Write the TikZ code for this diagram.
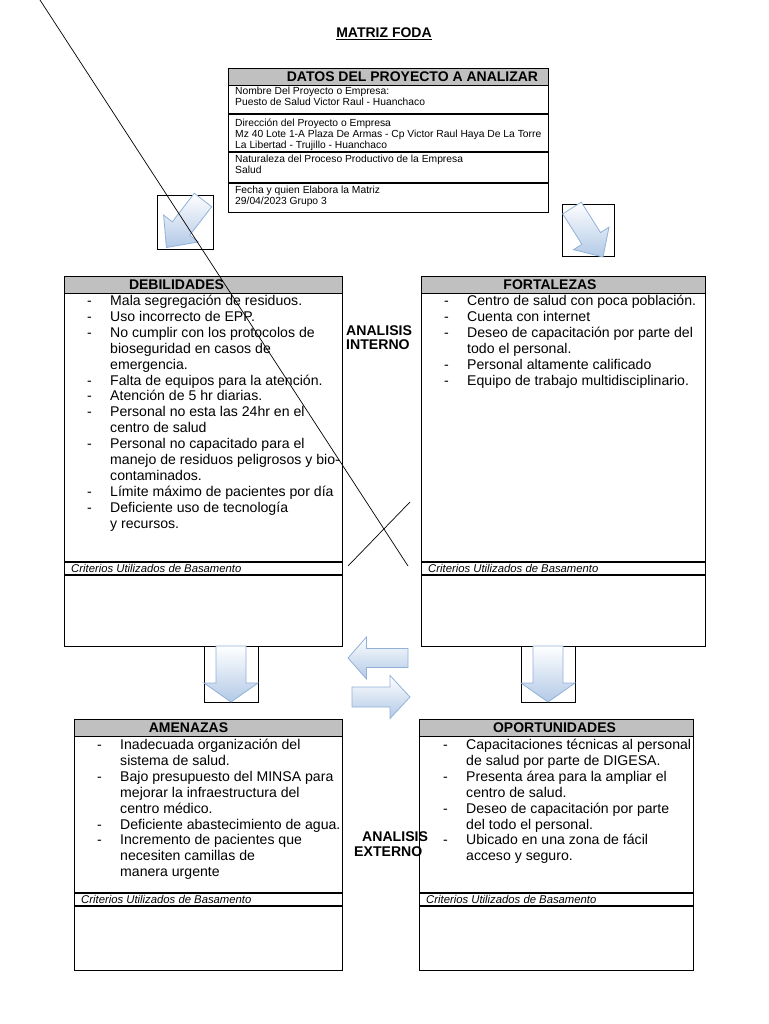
\documentclass[tikz,border=0pt]{standalone}
\usepackage{fontspec}
\setmainfont{Liberation Sans}
\usepackage{tikz}
\usetikzlibrary{positioning}
\definecolor{cabgris}{RGB}{192,192,192}
\definecolor{flechazul}{RGB}{178,201,230}
\definecolor{flechaborde}{RGB}{146,177,216}

\begin{document}
\begin{tikzpicture}[x=1pt,y=-1pt,
    caja/.style={draw,line width=1.1pt,inner sep=0pt},
    marco/.style={draw,line width=0.9pt},
    flecha/.style={draw=flechaborde,line width=0.8pt,top color=white,bottom color=flechazul},
    raya/.style={draw,line width=0.7pt},
    lista/.style={anchor=base west,inner sep=0pt,font=\fontsize{14.1}{15.9}\selectfont},
    datos/.style={anchor=base west,inner sep=0pt,font=\fontsize{10.3}{11}\selectfont},
    titulo/.style={anchor=base,inner sep=0pt,font=\bfseries\fontsize{14}{16}\selectfont},
    criterio/.style={anchor=base west,inner sep=0pt,font=\itshape\fontsize{11.3}{13}\selectfont},
    analisis/.style={anchor=base west,inner sep=0pt,font=\bfseries\fontsize{14.1}{14.8}\selectfont}]
    \useasboundingbox (0,0) rectangle (768,1024);

    % titulo
    \node[titulo] (tit) at (384,38) {\underline{MATRIZ FODA}};

    % datos del proyecto
    \node[caja,anchor=north west,minimum width=320,minimum height=144] (dat) at (228,68) {};
    \node[caja,fill=cabgris,anchor=north west,minimum width=320,minimum height=17] (dat-cab) at (dat.north west) {};
    \node[titulo] at (412.5,82) {DATOS DEL PROYECTO A ANALIZAR};
    \foreach \yy in {114,152,183} {
        \draw[caja] (228,\yy) -- (548,\yy);
    }
    \node[datos] (dat-1) at (235,94.5) {\begin{tabular}[t]{@{}l@{}}Nombre Del Proyecto o Empresa:\\ Puesto de Salud Victor Raul - Huanchaco\end{tabular}};
    \node[datos] (dat-2) at (235,126.5) {\begin{tabular}[t]{@{}l@{}}Dirección del Proyecto o Empresa\\ Mz 40 Lote 1-A Plaza De Armas - Cp Victor Raul Haya De La Torre\\ La Libertad - Trujillo - Huanchaco\end{tabular}};
    \node[datos] (dat-3) at (235,162.5) {\begin{tabular}[t]{@{}l@{}}Naturaleza del Proceso Productivo de la Empresa\\ Salud\end{tabular}};
    \node[datos] (dat-4) at (235,193.5) {\begin{tabular}[t]{@{}l@{}}Fecha y quien Elabora la Matriz\\ 29/04/2023 Grupo 3\end{tabular}};

    % cuadrantes
    \foreach \nom/\xa/\ya/\xb/\yb/\ys/\tex/\tx in {deb/64/276/342/646/562/DEBILIDADES/176.5, fort/421/276/705/646/562/FORTALEZAS/550, amen/74/719/342/970/893/AMENAZAS/188.5, oport/419/719/693/970/893/OPORTUNIDADES/554.5} {
        \node[caja,anchor=north west,minimum width={\xb-\xa},minimum height={\yb-\ya}] (\nom) at (\xa,\ya) {};
        \node[caja,fill=cabgris,anchor=north west,minimum width={\xb-\xa},minimum height=17] (\nom-cab) at (\nom.north west) {};
        \node[titulo] at (\tx,\ya+13.5) {\tex};
        \draw[caja] (\xa,\ys) -- (\xb,\ys);
        \draw[caja] (\xa,\ys+13) -- (\xb,\ys+13);
        \node[criterio] at (\xa+7,\ys+10) {Criterios Utilizados de Basamento};
    }

    \node[lista] (deb-txt) at (87,305.5) {\begin{tabular}[t]{@{}p{23pt}@{}l@{}}
        - & Mala segregación de residuos.\\
        - & Uso incorrecto de EPP.\\
        - & No cumplir con los protocolos de\\
          & bioseguridad en casos de\\
          & emergencia.\\
        - & Falta de equipos para la atención.\\
        - & Atención de 5 hr diarias.\\
        - & Personal no esta las 24hr en el\\
          & centro de salud\\
        - & Personal no capacitado para el\\
          & manejo de residuos peligrosos y bio-\\
          & contaminados.\\
        - & Límite máximo de pacientes por día\\
        - & Deficiente uso de tecnología\\
          & y recursos.
    \end{tabular}};
    \node[lista] (fort-txt) at (444,305.5) {\begin{tabular}[t]{@{}p{23pt}@{}l@{}}
        - & Centro de salud con poca población.\\
        - & Cuenta con internet\\
        - & Deseo de capacitación por parte del\\
          & todo el personal.\\
        - & Personal altamente calificado\\
        - & Equipo de trabajo multidisciplinario.
    \end{tabular}};
    \node[lista] (amen-txt) at (97,749.5) {\begin{tabular}[t]{@{}p{23pt}@{}l@{}}
        - & Inadecuada organización del\\
          & sistema de salud.\\
        - & Bajo presupuesto del MINSA para\\
          & mejorar la infraestructura del\\
          & centro médico.\\
        - & Deficiente abastecimiento de agua.\\
        - & Incremento de pacientes que\\
          & necesiten camillas de\\
          & manera urgente
    \end{tabular}};
    \node[lista] (oport-txt) at (443,749.5) {\begin{tabular}[t]{@{}p{23pt}@{}l@{}}
        - & Capacitaciones técnicas al personal\\
          & de salud por parte de DIGESA.\\
        - & Presenta área para la ampliar el\\
          & centro de salud.\\
        - & Deseo de capacitación por parte\\
          & del todo el personal.\\
        - & Ubicado en una zona de fácil\\
          & acceso y seguro.
    \end{tabular}};

    \node[analisis] (int) at (346,335) {\begin{tabular}[t]{@{}l@{}}ANALISIS\\ INTERNO\end{tabular}};
    \node[analisis] (ext) at (354,841.7) {\begin{tabular}[t]{@{}l@{}}\hspace*{8pt}ANALISIS\\ EXTERNO\end{tabular}};

    % marcos de las flechas
    \draw[marco] (157,195) rectangle (213,249);
    \draw[marco] (562,204) rectangle (614,256);
    \draw[marco] (204,646) rectangle (258,702);
    \draw[marco] (521,646) rectangle (575,702);

    % flechas
    \foreach \px/\py/\ang/\lar/\a/\b/\h in {203/200/232.4/60/11/22/24, 572/208/-57.7/58/11/21/22, 231/646/-90/56/15/27/19, 548/646/-90/56/15/27/19, 408/658/180/60/9.5/21/18.5, 352/697/0/58/10/21.5/20} {
        \begin{scope}[shift={(\px,\py)},rotate=\ang]
            \draw[flecha] (0,-\a) -- (\lar-\h,-\a) -- (\lar-\h,-\b) -- (\lar,0) -- (\lar-\h,\b) -- (\lar-\h,\a) -- (0,\a) -- cycle;
        \end{scope}
    }

    % rayas
    \draw[raya] (40,0) -- (408,566);
    \draw[raya] (348,566) -- (410,502);
\end{tikzpicture}
\end{document}
